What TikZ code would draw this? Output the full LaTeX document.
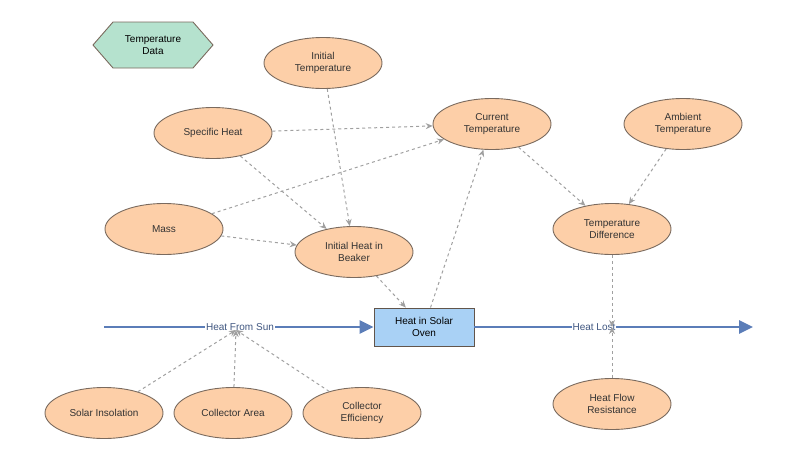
\documentclass[tikz,border=0pt]{standalone}
\usepackage{fontspec}
\setmainfont{Liberation Sans}
\usetikzlibrary{shapes.geometric,arrows.meta}
\definecolor{ell}{HTML}{FDCFA8}
\definecolor{ellb}{HTML}{7A6A5E}
\definecolor{stock}{HTML}{A9D1F5}
\definecolor{hexf}{HTML}{B5E2CE}
\definecolor{flow}{HTML}{5B7DB8}
\definecolor{dep}{HTML}{A0A0A0}
\begin{document}
\begin{tikzpicture}[x=1pt,y=-1pt,
  var/.style={ellipse,draw=ellb,fill=ell,line width=0.9pt,minimum width=118pt,minimum height=51pt,inner sep=0pt,align=center,font=\fontsize{10}{12}\selectfont,text=black!80},
  dep/.style={draw=dep,dashed,line width=1pt,-{Stealth[length=7pt,width=6pt]}},
  flowl/.style={draw=flow,line width=2.6pt,-{Triangle[length=14pt,width=13pt]}},
  lbl/.style={fill=white,inner sep=1pt,font=\fontsize{10}{12}\selectfont,text=flow!70!black}]
\useasboundingbox (0,0) rectangle (800,461);
\draw[draw=ellb,fill=hexf,line width=0.9pt] (93,45) -- (113,22) -- (193,22) -- (213,45) -- (193,68) -- (113,68) -- cycle;
\node[align=center,font=\fontsize{10}{12}\selectfont,inner sep=0pt] (td) at (153,45) {Temperature\\Data};
\node[var] (it) at (323,63) {Initial\\Temperature};
\node[var] (sh) at (213,133) {Specific Heat};
\node[var] (ct) at (492,124) {Current\\Temperature};
\node[var] (at) at (683,124) {Ambient\\Temperature};
\node[var] (ma) at (164,229) {Mass};
\node[var] (ih) at (354,252) {Initial Heat in\\Beaker};
\node[var] (tdf) at (612,229) {Temperature\\Difference};
\node[draw=ellb!80!black,fill=stock,line width=0.9pt,minimum width=100pt,minimum height=38pt,align=center,font=\fontsize{10}{12}\selectfont,inner sep=0pt] (ho) at (424,327) {Heat in Solar\\Oven};
\node[var] (si) at (104,413) {Solar Insolation};
\node[var] (ca) at (233,413) {Collector Area};
\node[var] (ce) at (362,413) {Collector\\Efficiency};
\node[var] (hr) at (612,404) {Heat Flow\\Resistance};
\coordinate (src) at (104,327);
\coordinate (snk) at (753,327);
\draw[flowl] (src) -- (ho.west);
\draw[flowl] (ho.east) -- (snk);
\node[lbl] (hfs) at (240,327) {Heat From Sun};
\node[lbl] (hl) at (594,327) {Heat Lost};
\coordinate (hfsp) at (236,330);
\coordinate (hlp) at (612,327);
\draw[dep] (sh) -- (ct);
\draw[dep] (sh) -- (ih);
\draw[dep] (it) -- (ih);
\draw[dep] (ma) -- (ct);
\draw[dep] (ma) -- (ih);
\draw[dep] (ih) -- (ho);
\draw[dep] (ho) -- (ct);
\draw[dep] (ct) -- (tdf);
\draw[dep] (at) -- (tdf);
\draw[dep] (tdf) -- (hlp);
\draw[dep] (hr) -- (hlp);
\draw[dep] (si) -- (hfsp);
\draw[dep] (ca) -- (hfsp);
\draw[dep] (ce) -- (hfsp);
\end{tikzpicture}
\end{document}
